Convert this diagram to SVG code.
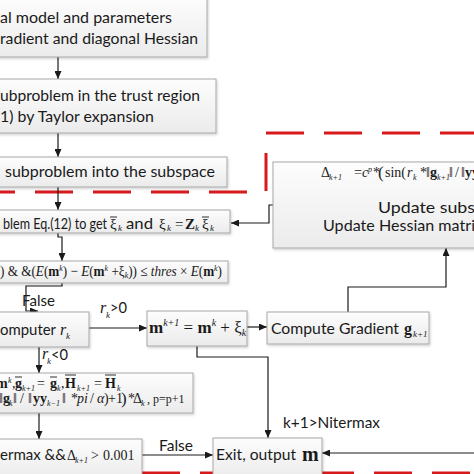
<svg xmlns="http://www.w3.org/2000/svg" width="474" height="474" viewBox="0 0 474 474">
<defs>
<linearGradient id="g" x1="0" y1="0" x2="0" y2="1">
<stop offset="0" stop-color="#fdfdfd"/>
<stop offset="1" stop-color="#ebebeb"/>
</linearGradient>
<filter id="sh" x="-10%" y="-10%" width="120%" height="130%">
<feDropShadow dx="1" dy="1.5" stdDeviation="1" flood-color="#000" flood-opacity="0.18"/>
</filter>
<marker id="a" markerUnits="userSpaceOnUse" markerWidth="8" markerHeight="7" refX="8" refY="3.5" orient="auto">
<path d="M0,0 L8,3.5 L0,7 z" fill="#1a1a1a"/>
</marker>
</defs>
<style>
.box{fill:url(#g);stroke:#a8a8a8;stroke-width:1;filter:url(#sh)}
.t{font-family:Lato,"Open Sans",sans-serif;font-size:16px;fill:#1a1a1a}
.m{font-family:"Liberation Serif","Times New Roman",serif;fill:#1a1a1a}
.b{font-weight:bold}
.i{font-style:italic}
.c{stroke:#1a1a1a;stroke-width:1.2;fill:none;marker-end:url(#a)}
.bar{stroke:#1a1a1a;stroke-width:0.9}
.red{stroke:#d7191c;stroke-width:3;fill:none;stroke-dasharray:38 20}
</style>
<rect width="474" height="474" fill="#fff"/>

<g id="dividers">
<path class="red" d="M0 192 H266 V133 H480" stroke-dashoffset="23"/>
<path class="red" d="M0 473 H474" stroke-dashoffset="32"/>
</g>

<g id="connectors">
<path class="c" d="M58 57 V79"/>
<path class="c" d="M58 133 V157"/>
<path class="c" d="M58 187 V210"/>
<path class="c" d="M58 233 V237 H62 V261"/>
<path class="c" d="M62 283 V286 H26 V311 H38"/>
<path class="c" d="M89 328 H147"/>
<path class="c" d="M247 327 H267"/>
<path class="c" d="M348 312 V287 H446 V248"/>
<path class="c" d="M197 346 V357 H268 V438"/>
<path class="c" d="M39 347 V373"/>
<path class="c" d="M39 413 V439"/>
<path class="c" d="M142 455 H213"/>
<path class="c" d="M474 453 H322"/>
<path class="c" d="M273 205 H269 V223 H231"/>
<text class="t" x="22" y="306" textLength="33" lengthAdjust="spacingAndGlyphs">False</text>
<text class="m i" x="100" y="313" font-size="16">r<tspan x="106" y="318" font-size="9">k</tspan></text>
<text class="t" x="110" y="313" textLength="17" lengthAdjust="spacingAndGlyphs">&gt;0</text>
<text class="m i" x="42" y="359" font-size="16">r<tspan x="47" y="364" font-size="9">k</tspan></text>
<text class="t" x="51" y="360" textLength="17" lengthAdjust="spacingAndGlyphs">&lt;0</text>
<text class="t" x="159" y="451" textLength="34" lengthAdjust="spacingAndGlyphs">False</text>
<text class="t" x="283" y="428" textLength="97" lengthAdjust="spacingAndGlyphs">k+1&gt;Nitermax</text>
</g>

<g id="n1">
<rect class="box" x="-6" y="-4" width="213" height="61"/>
<text class="t" x="0" y="23" textLength="172" lengthAdjust="spacingAndGlyphs">al model and parameters</text>
<text class="t" x="0" y="44" textLength="198" lengthAdjust="spacingAndGlyphs">radient and diagonal Hessian</text>
</g>

<g id="n2">
<rect class="box" x="-6" y="79" width="222" height="54"/>
<text class="t" x="0" y="101" textLength="200" lengthAdjust="spacingAndGlyphs">ubproblem in the trust region</text>
<text class="t" x="0" y="122" textLength="154" lengthAdjust="spacingAndGlyphs">1) by Taylor expansion</text>
</g>

<g id="n3">
<rect class="box" x="-6" y="157" width="233" height="30"/>
<text class="t" x="5" y="177" textLength="210" lengthAdjust="spacingAndGlyphs">subproblem into the subspace</text>
</g>

<g id="n4">
<rect class="box" x="-6" y="210" width="236" height="23"/>
<text class="t" x="3" y="229" textLength="104" lengthAdjust="spacingAndGlyphs">blem Eq.(12) to get</text>
<text class="m" x="110" y="229" font-size="15">ξ<tspan class="i" x="118" y="231" font-size="9">k</tspan></text>
<line class="bar" x1="110" y1="217" x2="117" y2="217"/>
<text class="t" x="126" y="229" textLength="27" lengthAdjust="spacingAndGlyphs">and</text>
<text class="m" x="159" y="229" font-size="15">ξ<tspan class="i" x="167" y="231" font-size="9">k</tspan><tspan x="175" y="229">=</tspan><tspan class="b" x="185">Z</tspan><tspan class="i" x="195" y="231" font-size="9">k</tspan><tspan x="202" y="229">ξ</tspan><tspan class="i" x="210" y="231" font-size="9">k</tspan></text>
<line class="bar" x1="202" y1="217" x2="209" y2="217"/>
</g>

<g id="n5">
<rect class="box" x="-6" y="261" width="234" height="22"/>
<text class="m" x="0" y="276" font-size="15" textLength="222" lengthAdjust="spacingAndGlyphs">) &amp; &amp;(<tspan class="i">E</tspan>(<tspan class="b">m</tspan><tspan class="i" font-size="9" dy="-5">k</tspan><tspan dy="5">) − </tspan><tspan class="i">E</tspan>(<tspan class="b">m</tspan><tspan class="i" font-size="9" dy="-5">k</tspan><tspan dy="5"> +ξ</tspan><tspan class="i" font-size="9" dy="2">k</tspan><tspan dy="-2">)) ≤ </tspan><tspan class="i">thres</tspan> × <tspan class="i">E</tspan>(<tspan class="b">m</tspan><tspan class="i" font-size="9" dy="-5">k</tspan><tspan dy="5">)</tspan></text>
</g>

<g id="n6">
<rect class="box" x="-6" y="312" width="95" height="35"/>
<text class="t" x="0" y="335" textLength="56" lengthAdjust="spacingAndGlyphs">omputer</text>
<text class="m i" x="60" y="335" font-size="16">r<tspan x="66" y="339" font-size="9">k</tspan></text>
</g>

<g id="n7">
<rect class="box" x="147" y="311" width="100" height="35"/>
<text class="m" x="149" y="333" font-size="17"><tspan class="b">m</tspan><tspan class="i" font-size="10" dy="-7">k+1</tspan><tspan dy="7"> = </tspan><tspan class="b">m</tspan><tspan class="i" font-size="10" dy="-7">k</tspan><tspan dy="7"> + ξ</tspan><tspan class="i" font-size="10" dy="3">k</tspan></text>
</g>

<g id="n8">
<rect class="box" x="267" y="312" width="162" height="32"/>
<text class="t" x="271" y="334" textLength="128" lengthAdjust="spacingAndGlyphs">Compute Gradient</text>
<text class="m b" x="404" y="334" font-size="16">g<tspan class="i" x="413" y="337" font-size="9" font-weight="normal">k+1</tspan></text>
</g>

<g id="n9">
<rect class="box" x="273" y="162" width="215" height="86"/>
<text class="m" x="321" y="177" font-size="14">Δ<tspan class="i" x="329" y="180" font-size="8">k+1</tspan><tspan x="354" y="177">=</tspan><tspan class="i" x="362">c</tspan><tspan class="i" x="368" y="172" font-size="8">p</tspan><tspan x="373" y="177">*</tspan><tspan x="378" y="178" font-size="17">(</tspan><tspan x="385" y="177">sin(</tspan><tspan class="i" x="407">r</tspan><tspan class="i" x="413" y="180" font-size="8">k</tspan><tspan x="420" y="177">*</tspan><tspan x="426">‖</tspan><tspan class="b" x="430">g</tspan><tspan class="i" x="437" y="180" font-size="8">k+1</tspan><tspan x="449" y="177">‖</tspan><tspan x="455">/</tspan><tspan x="461">‖</tspan><tspan class="b" x="465">yy</tspan></text>
<text class="t" x="378" y="213" textLength="97" lengthAdjust="spacingAndGlyphs">Update subs</text>
<text class="t" x="323" y="231" textLength="152" lengthAdjust="spacingAndGlyphs">Update Hessian matri</text>
</g>

<g id="n10">
<rect class="box" x="-6" y="373" width="199" height="40"/>
<text class="m" x="-4" y="388" font-size="14"><tspan class="b">m</tspan><tspan class="i" x="8" y="383" font-size="8">k</tspan><tspan x="12" y="388">,</tspan><tspan class="b" x="15">g</tspan><tspan class="i" x="22" y="391" font-size="8">k+1</tspan><tspan x="37" y="388">=</tspan><tspan class="b" x="50">g</tspan><tspan class="i" x="57" y="391" font-size="8">k</tspan><tspan x="61" y="388">,</tspan><tspan class="b" x="65">H</tspan><tspan class="i" x="77" y="391" font-size="8">k+1</tspan><tspan x="94" y="388">=</tspan><tspan class="b" x="105">H</tspan><tspan class="i" x="117" y="391" font-size="8">k</tspan></text>
<line class="bar" x1="15" y1="377" x2="22" y2="377"/>
<line class="bar" x1="50" y1="377" x2="57" y2="377"/>
<line class="bar" x1="65" y1="375" x2="76" y2="375"/>
<line class="bar" x1="105" y1="375" x2="116" y2="375"/>
<text class="m" x="-1" y="403" font-size="14">‖<tspan class="b" x="3">g</tspan><tspan class="i" x="9" y="406" font-size="8">k</tspan><tspan x="13" y="403">‖</tspan><tspan x="20">/</tspan><tspan x="28">‖</tspan><tspan class="b" x="33">yy</tspan><tspan class="i" x="47" y="406" font-size="8">k−1</tspan><tspan x="62" y="403">‖</tspan><tspan x="71">*</tspan><tspan class="i" x="77">pi</tspan><tspan x="90">/</tspan><tspan class="i" x="97">α</tspan><tspan x="104">)</tspan><tspan x="108">+1</tspan><tspan x="121" y="404" font-size="17">)</tspan><tspan x="128" y="403">*</tspan><tspan x="133">Δ</tspan><tspan class="i" x="141" y="406" font-size="8">k</tspan><tspan x="147" y="403" font-size="12">, p=p+1</tspan></text>
</g>

<g id="n11">
<rect class="box" x="-6" y="439" width="148" height="40"/>
<text class="t" x="0" y="460" textLength="66" lengthAdjust="spacingAndGlyphs">ermax &amp;&amp;</text>
<text class="m" x="67" y="460" font-size="14">Δ<tspan class="i" x="75" y="463" font-size="8">k+1</tspan><tspan x="91" y="460">&gt;</tspan><tspan x="103">0.001</tspan></text>
</g>

<g id="n12">
<rect class="box" x="213" y="438" width="109" height="40"/>
<text class="t" x="216" y="460" textLength="80" lengthAdjust="spacingAndGlyphs">Exit, output</text>
<text class="m b" x="302" y="461" font-size="20">m</text>
</g>
</svg>
